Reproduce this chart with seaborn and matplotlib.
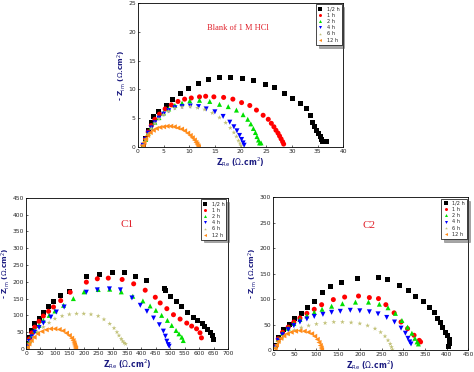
import pandas as pd
import numpy as np
import matplotlib
matplotlib.use('Agg')
import matplotlib.pyplot as plt
import seaborn as sns

sns.set_style('ticks')
plt.rcParams['font.family'] = ['DejaVu Sans']

labels = ['1/2 h', '1 h', '2 h', '4 h', '6 h', '12 h']
colors = ['#000000', '#ff0000', '#00e000', '#0000ff', '#c2c27a', '#ff8c1a']
markers = ['s', 'o', '^', 'v', '*', '<']

# ---- Blank of 1 M HCl ----
blank_x_05 = [1.0, 1.5, 2.0, 2.6, 3.1, 4.0, 5.5, 6.8, 8.2, 9.8, 11.8, 13.8, 15.8, 18.1, 20.4, 22.6, 24.8, 26.7, 28.5, 30.2, 31.6, 32.9, 33.7, 34.0, 34.4, 34.8, 35.2, 35.5, 35.8, 36.0, 36.8]
blank_y_05 = [0.3, 1.5, 2.9, 4.3, 5.3, 6.2, 7.2, 8.2, 9.2, 10.1, 11.1, 11.7, 12.0, 12.0, 11.9, 11.5, 10.8, 10.3, 9.3, 8.4, 7.6, 6.7, 5.4, 4.2, 3.5, 2.9, 2.3, 1.8, 1.3, 0.9, 0.9]
blank_x_1 = [1.0, 1.5, 2.0, 2.6, 3.3, 4.2, 5.3, 6.5, 7.8, 9.1, 10.4, 12.0, 13.2, 14.8, 16.7, 18.5, 20.2, 21.8, 23.1, 24.4, 25.4, 26.0, 26.5, 26.9, 27.3, 27.6, 27.9, 28.2, 28.4]
blank_y_1 = [0.3, 1.4, 2.6, 3.7, 4.8, 5.7, 6.6, 7.3, 7.9, 8.3, 8.5, 8.7, 8.8, 8.7, 8.6, 8.3, 7.7, 7.2, 6.4, 5.5, 4.8, 4.1, 3.5, 2.9, 2.4, 1.9, 1.4, 0.9, 0.5]
blank_x_2 = [1.0, 1.5, 2.0, 2.6, 3.3, 4.1, 5.0, 6.0, 7.2, 8.6, 10.1, 12.0, 14.0, 15.9, 17.6, 19.2, 20.5, 21.4, 22.0, 22.5, 22.9, 23.2, 23.5, 23.7, 24.0]
blank_y_2 = [0.3, 1.3, 2.4, 3.4, 4.3, 5.1, 5.9, 6.6, 7.2, 7.6, 8.0, 8.1, 7.9, 7.4, 7.0, 6.4, 5.6, 4.8, 4.0, 3.2, 2.5, 1.8, 1.2, 0.7, 0.7]
blank_x_4 = [1.0, 1.5, 2.0, 2.6, 3.3, 4.1, 5.0, 6.0, 7.2, 8.6, 10.2, 11.8, 13.3, 15.0, 16.6, 17.9, 18.7, 19.3, 19.8, 20.2, 20.5, 20.7]
blank_y_4 = [0.3, 1.3, 2.4, 3.3, 4.2, 5.0, 5.7, 6.3, 6.8, 7.0, 7.1, 7.0, 6.6, 6.1, 5.3, 4.3, 3.5, 2.8, 2.0, 1.3, 0.7, 0.3]
blank_x_6 = [1.0, 1.5, 2.0, 2.6, 3.3, 4.1, 5.0, 6.0, 7.2, 8.6, 10.2, 11.6, 13.0, 14.5, 15.9, 17.1, 18.0, 18.7, 19.2, 19.6, 19.9, 20.1]
blank_y_6 = [0.3, 1.2, 2.2, 3.2, 4.1, 4.9, 5.6, 6.2, 6.7, 6.9, 7.0, 6.8, 6.5, 5.9, 5.1, 4.2, 3.3, 2.5, 1.8, 1.1, 0.6, 0.2]
blank_x_12 = [1.0, 1.2, 1.5, 1.9, 2.4, 3.0, 3.6, 4.3, 5.0, 5.7, 6.4, 7.1, 7.8, 8.5, 9.1, 9.7, 10.2, 10.6, 11.0, 11.3, 11.5, 11.7, 11.8]
blank_y_12 = [0.2, 0.8, 1.4, 2.0, 2.5, 2.9, 3.2, 3.4, 3.5, 3.6, 3.6, 3.5, 3.3, 3.1, 2.8, 2.4, 2.0, 1.6, 1.2, 0.8, 0.5, 0.2, 0.0]

# ---- C1 ----
c1_x_05 = [5, 12, 20, 30, 45, 60, 78, 95, 120, 150, 210, 255, 300, 340, 380, 418, 480, 482, 500, 520, 540, 560, 580, 595, 610, 620, 630, 638, 645, 650]
c1_y_05 = [15, 35, 55, 75, 92, 108, 125, 140, 158, 172, 216, 221, 229, 229, 216, 204, 180, 175, 155, 140, 125, 110, 95, 85, 75, 66, 58, 50, 40, 28]
c1_x_1 = [5, 12, 20, 30, 45, 60, 78, 95, 120, 153, 209, 247, 285, 333, 373, 413, 448, 465, 488, 511, 534, 557, 574, 591, 603, 608]
c1_y_1 = [12, 30, 48, 65, 82, 98, 112, 125, 144, 169, 199, 209, 211, 207, 194, 175, 154, 137, 120, 102, 89, 77, 68, 60, 48, 33]
c1_x_2 = [5, 12, 20, 30, 45, 60, 80, 100, 130, 164, 201, 250, 290, 330, 370, 405, 430, 450, 470, 490, 505, 520, 530, 540, 545]
c1_y_2 = [10, 25, 40, 55, 70, 85, 100, 113, 130, 150, 170, 177, 178, 170, 157, 143, 128, 115, 100, 85, 70, 55, 45, 35, 25]
c1_x_4 = [5, 12, 20, 30, 45, 60, 86, 105, 132, 209, 247, 289, 327, 367, 396, 419, 442, 462, 476, 483, 488, 493, 496]
c1_y_4 = [8, 22, 36, 50, 64, 77, 95, 110, 125, 169, 176, 179, 176, 152, 130, 112, 92, 72, 53, 38, 23, 13, 8]
c1_x_6 = [5, 15, 25, 40, 60, 80, 100, 125, 150, 175, 200, 225, 250, 270, 290, 305, 315, 322, 330, 335, 340, 345]
c1_y_6 = [5, 20, 35, 50, 65, 78, 90, 98, 103, 105, 105, 103, 98, 88, 75, 62, 50, 40, 30, 23, 18, 15]
c1_x_12 = [5, 10, 18, 28, 40, 55, 70, 85, 100, 115, 128, 140, 150, 158, 163, 166, 168, 170, 172]
c1_y_12 = [5, 15, 25, 35, 45, 52, 57, 60, 60, 58, 54, 47, 40, 32, 25, 18, 12, 6, 2]

# ---- C2 ----
c2_x_05 = [5, 12, 23, 37, 50, 65, 80, 96, 115, 132, 157, 195, 243, 264, 291, 312, 329, 346, 360, 371, 379, 387, 390, 398, 402, 406, 406, 405]
c2_y_05 = [8, 25, 40, 50, 62, 72, 83, 95, 113, 125, 133, 141, 142, 139, 127, 116, 106, 95, 83, 73, 62, 55, 45, 35, 29, 20, 12, 7]
c2_x_1 = [5, 12, 22, 35, 48, 62, 78, 95, 112, 139, 165, 197, 222, 243, 260, 279, 295, 310, 325, 337, 340]
c2_y_1 = [7, 22, 35, 45, 55, 63, 72, 80, 89, 99, 104, 106, 103, 101, 89, 73, 55, 42, 29, 19, 16]
c2_x_2 = [5, 12, 22, 35, 48, 62, 78, 95, 113, 135, 160, 190, 220, 245, 265, 282, 297, 310, 320, 327, 332, 335]
c2_y_2 = [7, 21, 33, 43, 52, 60, 67, 74, 80, 86, 91, 94, 94, 90, 83, 72, 58, 45, 33, 23, 16, 12]
c2_x_4 = [5, 12, 22, 35, 48, 62, 78, 95, 115, 135, 155, 178, 200, 222, 242, 262, 280, 295, 305, 311, 315, 318]
c2_y_4 = [6, 19, 30, 40, 48, 55, 61, 66, 70, 74, 76, 78, 77, 75, 71, 64, 55, 43, 33, 23, 16, 12]
c2_x_6 = [5, 12, 22, 35, 50, 65, 82, 100, 120, 140, 160, 180, 200, 218, 235, 248, 258, 265, 270, 273, 275]
c2_y_6 = [5, 15, 24, 32, 39, 44, 48, 51, 53, 55, 55, 54, 52, 48, 42, 35, 27, 19, 12, 6, 1]
c2_x_12 = [5, 8, 12, 18, 25, 33, 42, 52, 62, 72, 81, 89, 96, 102, 106, 109, 111, 112]
c2_y_12 = [3, 10, 17, 23, 28, 32, 35, 37, 38, 37, 35, 32, 27, 21, 15, 9, 4, 0]

blank_x = [blank_x_05, blank_x_1, blank_x_2, blank_x_4, blank_x_6, blank_x_12]
blank_y = [blank_y_05, blank_y_1, blank_y_2, blank_y_4, blank_y_6, blank_y_12]
c1_x = [c1_x_05, c1_x_1, c1_x_2, c1_x_4, c1_x_6, c1_x_12]
c1_y = [c1_y_05, c1_y_1, c1_y_2, c1_y_4, c1_y_6, c1_y_12]
c2_x = [c2_x_05, c2_x_1, c2_x_2, c2_x_4, c2_x_6, c2_x_12]
c2_y = [c2_y_05, c2_y_1, c2_y_2, c2_y_4, c2_y_6, c2_y_12]


def to_frame(xs, ys):
    parts = []
    for lab, x, y in zip(labels, xs, ys):
        parts.append(pd.DataFrame({'x': x, 'y': y, 'time': lab}))
    return pd.concat(parts, ignore_index=True)


fig = plt.figure(figsize=(4.74, 3.72), dpi=100)
ax0 = fig.add_axes([0.291, 0.605, 0.433, 0.387])
ax1 = fig.add_axes([0.055, 0.062, 0.426, 0.406])
ax2 = fig.add_axes([0.576, 0.059, 0.412, 0.411])

panels = [
    (ax0, blank_x, blank_y, (0, 40), (0, 25), 5, 5, 'Blank of 1 M HCl', (19.5, 20.6), 6),
    (ax1, c1_x, c1_y, (0, 700), (0, 450), 50, 50, 'C1', (350, 372), 8),
    (ax2, c2_x, c2_y, (0, 450), (0, 300), 50, 50, 'C2', (222, 245), 8),
]

pal = dict(zip(labels, colors))
mk = dict(zip(labels, markers))

for ax, xs, ys, xl, yl, xst, yst, title, tpos, tsize in panels:
    df = to_frame(xs, ys)
    sns.scatterplot(data=df, x='x', y='y', hue='time', style='time',
                    palette=pal, markers=mk, hue_order=labels, style_order=labels,
                    s=13, linewidth=0, ax=ax)
    ax.set_xlim(*xl)
    ax.set_ylim(*yl)
    ax.set_xticks(np.arange(xl[0], xl[1] + 1, xst))
    ax.set_yticks(np.arange(yl[0], yl[1] + 1, yst))
    ax.tick_params(direction='in', length=1.5, width=0.5, labelsize=4.3, pad=1.5)
    for sp in ax.spines.values():
        sp.set_linewidth(0.6)
        sp.set_color('black')
    ax.set_xlabel('Z$_{\\rm Re}$ ($\\Omega$.cm$^{2}$)', fontsize=5.5, fontweight='bold',
                  color='#1a1a80', labelpad=1)
    ax.set_ylabel('- Z$_{\\rm im}$ ($\\Omega$.cm$^{2}$)', fontsize=5.2, fontweight='bold',
                  color='#1a1a80', labelpad=0)
    ax.text(tpos[0], tpos[1], title, color='#e0202a', fontsize=tsize,
            family='Liberation Serif', ha='center', va='center')
    handles, labs = ax.get_legend_handles_labels()
    ax.legend(handles, labs, loc='upper right', fontsize=3.6, markerscale=0.6,
              frameon=True, fancybox=False, shadow=True, edgecolor='black',
              borderaxespad=0.3, handletextpad=0.8, labelspacing=0.25,
              borderpad=0.4, handlelength=1.0)
    ax.get_legend().get_frame().set_linewidth(0.5)

fig.savefig('out.png', dpi=100)
